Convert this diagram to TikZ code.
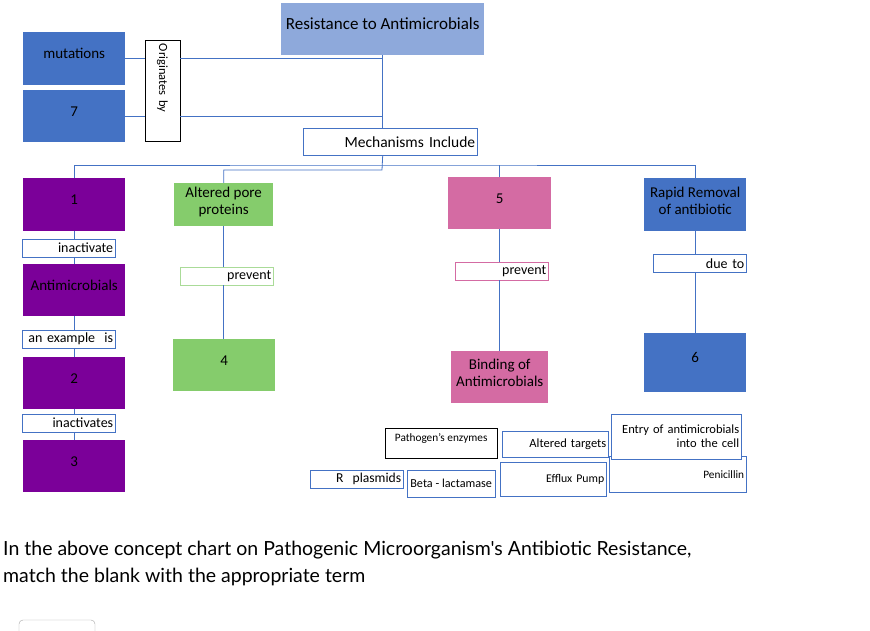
\documentclass[tikz,border=0pt]{standalone}
\usepackage{fontspec}
\setmainfont{Carlito}
\newfontfamily\quizfont{Lato}

\definecolor{titleblue}{HTML}{8EA9DB}
\definecolor{boxblue}{HTML}{4472C4}
\definecolor{boxpurple}{HTML}{7B0099}
\definecolor{boxgreen}{HTML}{85CC6C}
\definecolor{boxpink}{HTML}{D46BA3}
\definecolor{linkline}{HTML}{4472C4}

\tikzset{
  concept/.style={draw=none, minimum width=102pt, minimum height=53pt, inner sep=0pt,
    anchor=north west, align=center, font=\fontsize{15}{17}\selectfont},
  plain/.style={text height=9pt, text depth=9pt},
  twoline/.style={text depth=8pt},
  linkbox/.style={draw=boxblue, fill=white, minimum height=18pt, inner xsep=2pt, inner ysep=0pt,
    anchor=north west, align=right, text width=#1, font=\fontsize{14}{15}\selectfont},
  termbox/.style={draw=boxblue, fill=white, inner xsep=2pt, inner ysep=0pt,
    anchor=north west, font=\fontsize{12.5}{14}\selectfont},
  link/.style={draw=linkline, line width=0.8pt}
}

\begin{document}
\begin{tikzpicture}[x=1pt, y=-1pt]
    \useasboundingbox (0,0) rectangle (870,631);

    % Top of the chart
    \node[concept, fill=titleblue, minimum width=203pt, minimum height=52pt, plain,
      font=\fontsize{17}{19}\selectfont] (title) at (281,3) {Resistance to Antimicrobials};
    \node[concept, fill=boxblue, plain] (mutations) at (23,32) {mutations};
    \node[concept, fill=boxblue, minimum height=52pt, plain] (seven) at (23,90) {7};
    \node[draw=black, fill=white, minimum width=101pt, minimum height=35pt, inner xsep=4pt,
      rotate=-90, anchor=center, text width=93pt, align=left,
      font=\fontsize{12.5}{15}\selectfont] (origin) at (162.5,90.5) {Originates by};
    \node[linkbox=170pt, minimum height=27pt, font=\fontsize{15.5}{17}\selectfont] (mech) at (303,128) {Mechanisms Include};

    % Originates by links
    \coordinate (join) at (382,58);
    \draw[link] (mutations.east |- join) -- (origin.south |- join);
    \draw[link] (origin.north |- join) -- (join);
    \draw[link] (seven.east) -- (origin.south |- seven.east);
    \draw[link] (origin.north |- seven.east) -- (join |- seven.east);
    \draw[link] (title.south) -- (title.south |- mech.north);

    % Mechanism columns
    \node[concept, fill=boxpurple, plain] (one) at (23,178) {1};
    \node[concept, fill=boxgreen, minimum width=99pt, minimum height=43pt, twoline] (pore) at (174,183) {Altered pore\\proteins};
    \node[concept, fill=boxpink, minimum width=103pt, minimum height=52pt, plain] (five) at (448,177) {5};
    \node[concept, fill=boxblue, minimum height=53pt, twoline] (rapid) at (644,178) {Rapid Removal\\of antibiotic};

    \coordinate (busA) at (382,165);
    \coordinate (busB) at (382,170);
    \draw[link] (title.south |- mech.south) -- (busB) -| (pore.north);
    \draw[link] (one.north) |- (busA) -| (rapid.north);
    \draw[link] (five.north) -- (five.north |- busA);

    % Left column
    \node[linkbox=89pt] (inact) at (22,239) {inactivate};
    \node[concept, fill=boxpurple, minimum height=52pt, plain] (antimic) at (23,264) {Antimicrobials};
    \node[linkbox=89pt] (example) at (22,330) {an example\ \ is};
    \node[concept, fill=boxpurple, minimum height=52pt, plain] (two) at (23,357) {2};
    \node[linkbox=89pt] (inacts) at (22,414) {inactivates};
    \node[concept, fill=boxpurple, minimum height=52pt, plain] (three) at (23,440) {3};

    \draw[link] (one.south) -- (one.south |- inact.north);
    \draw[link] (one.south |- inact.south) -- (antimic.north);
    \draw[link] (antimic.south) -- (antimic.south |- example.north);
    \draw[link] (antimic.south |- example.south) -- (two.north);
    \draw[link] (two.south) -- (two.south |- inacts.north);
    \draw[link] (two.south |- inacts.south) -- (three.north);

    % Pore column
    \node[linkbox=89pt, draw=boxgreen!70] (preventA) at (180,267) {prevent};
    \node[concept, fill=boxgreen, minimum height=52pt, plain] (four) at (173,339) {4};
    \draw[link] (pore.south) -- (pore.south |- preventA.north);
    \draw[link] (pore.south |- preventA.south) -- (pore.south |- four.north);

    % Binding column
    \node[linkbox=89pt, draw=boxpink] (preventB) at (455,262) {prevent};
    \node[concept, fill=boxpink, minimum width=97pt, minimum height=52pt, twoline] (binding) at (451,351) {Binding of\\Antimicrobials};
    \draw[link] (five.south) -- (five.south |- preventB.north);
    \draw[link] (five.south |- preventB.south) -- (five.south |- binding.north);

    % Removal column
    \node[linkbox=89pt] (dueto) at (653,254) {due to};
    \node[concept, fill=boxblue, minimum height=59pt, plain] (six) at (644,333) {6};
    \draw[link] (rapid.south) -- (rapid.south |- dueto.north);
    \draw[link] (rapid.south |- dueto.south) -- (six.north);

    % Terms to choose from
    \node[termbox, draw=black, minimum width=112pt, minimum height=30pt, text height=8pt, text depth=12pt,
      font=\fontsize{11.3}{13}\selectfont] (enzymes) at (385,428) {Pathogen’s enzymes};
    \node[termbox, minimum height=26pt, text width=102pt, align=right] (targets) at (502,431) {Altered targets};
    \node[termbox, minimum height=36pt, text width=133pt, align=right, font=\fontsize{11.3}{13}\selectfont] (penicillin) at (609,456) {Penicillin};
    \node[termbox, minimum height=45pt, text width=126pt, align=right] (entry) at (611,414) {Entry of antimicrobials\\into the cell};
    \node[termbox, minimum height=18pt, text width=89pt, align=right,
      font=\fontsize{13.6}{15}\selectfont] (plasmids) at (310,470) {R\ \ plasmids};
    \node[termbox, minimum width=88pt, minimum height=27pt, font=\fontsize{12.2}{14}\selectfont] (lactamase) at (407,470) {Beta - lactamase};
    \node[termbox, minimum height=34pt, text width=102pt, align=right, font=\fontsize{11.8}{14}\selectfont] (efflux) at (500,462) {Efflux Pump};

    % Question text
    \node[anchor=base west, inner sep=0pt, font=\quizfont\fontsize{19.5}{22}\selectfont] (question) at (3,555)
      {In the above concept chart on Pathogenic Microorganism's Antibiotic Resistance,};
    \node[anchor=base west, inner sep=0pt, font=\quizfont\fontsize{19.5}{22}\selectfont] (match) at (3,582)
      {match the blank with the appropriate term};
    \draw[gray!70, rounded corners=4pt] (19,640) -- (19,620) -- (95,620) -- (95,640);
\end{tikzpicture}
\end{document}
